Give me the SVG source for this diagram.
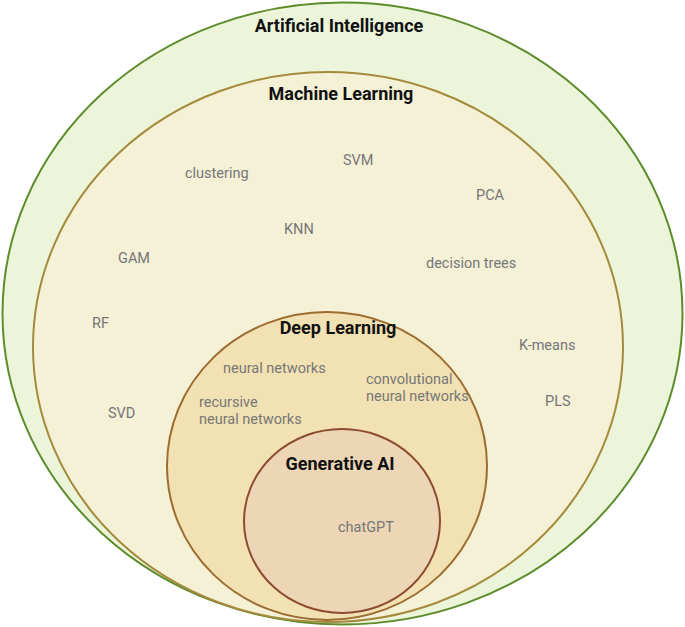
<svg xmlns="http://www.w3.org/2000/svg" width="685" height="627" viewBox="0 0 685 627">
<style>
.t{font-family:Roboto,"Liberation Sans",sans-serif;font-size:18px;font-weight:bold;fill:#111;text-anchor:middle}
.l{font-family:Roboto,"Liberation Sans",sans-serif;font-size:14.5px;fill:#777}
</style>
<rect width="685" height="627" fill="#fff"/>
<g id="ai"><ellipse cx="342.5" cy="313.5" rx="340" ry="311" fill="#ecf5da" stroke="#5e8c2c" stroke-width="2"/>
<text class="t" x="339" y="32">Artificial Intelligence</text></g>
<g id="ml"><ellipse cx="328" cy="347" rx="295" ry="275" fill="#f4f1d6" stroke="#a38a3c" stroke-width="2"/>
<text class="t" x="341" y="100">Machine Learning</text>
<text class="l" x="185" y="178">clustering</text>
<text class="l" x="343" y="165">SVM</text>
<text class="l" x="476" y="200">PCA</text>
<text class="l" x="284" y="234">KNN</text>
<text class="l" x="118" y="263">GAM</text>
<text class="l" x="426" y="268">decision trees</text>
<text class="l" x="92" y="328">RF</text>
<text class="l" x="519" y="350">K-means</text>
<text class="l" x="108" y="418">SVD</text>
<text class="l" x="545" y="406">PLS</text></g>
<g id="dl"><ellipse cx="327" cy="466" rx="160" ry="154" fill="#f2e1b2" stroke="#9c6c30" stroke-width="2"/>
<text class="t" x="338" y="334">Deep Learning</text>
<text class="l" x="223" y="373">neural networks</text>
<text class="l" x="366" y="384">convolutional</text>
<text class="l" x="366" y="401">neural networks</text>
<text class="l" x="199" y="407">recursive</text>
<text class="l" x="199" y="424">neural networks</text></g>
<g id="gen"><ellipse cx="342" cy="521" rx="98" ry="92" fill="#edd6b6" stroke="#8c4c30" stroke-width="2"/>
<text class="t" x="340" y="470">Generative AI</text>
<text class="l" x="338" y="532">chatGPT</text></g>
<g id="connectors"/>
</svg>
